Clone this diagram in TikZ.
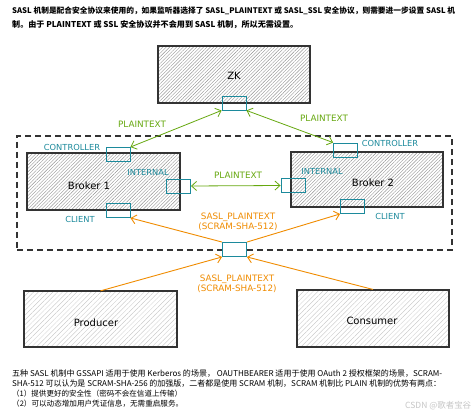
\documentclass[tikz,border=0pt]{standalone}
\usepackage{fontspec}
\setmainfont{DejaVu Sans}
\newfontfamily\cjk{Noto Sans CJK SC}
\usetikzlibrary{patterns.meta,arrows.meta}
\definecolor{tealc}{HTML}{1C8A9C}
\definecolor{grn}{HTML}{66A80F}
\definecolor{org}{HTML}{F08C00}
\definecolor{ink}{HTML}{333333}
\tikzset{
  hbox/.style={draw=ink,line width=1.1pt,inner sep=0,
    pattern={Lines[angle=45,distance=2.4pt,line width=0.4pt]},pattern color=gray!85},
  lbox/.style={draw=ink,line width=1.1pt,inner sep=0,
    pattern={Lines[angle=45,distance=3.4pt,line width=0.3pt]},pattern color=gray!50},
  port/.style={draw=tealc,line width=0.9pt,minimum width=24pt,minimum height=14pt,inner sep=0},
  plbl/.style={text=tealc,font=\fontsize{8.3}{9}\selectfont,inner sep=0},
  glbl/.style={text=grn,font=\fontsize{8.8}{9}\selectfont,inner sep=0},
  olbl/.style={text=org,font=\fontsize{8.8}{10}\selectfont,inner sep=0,align=center},
  btxt/.style={font=\fontsize{10}{11}\selectfont,inner sep=0},
  garr/.style={draw=grn,line width=0.8pt,>={Straight Barb[length=5pt,width=9pt]}},
  oarr/.style={draw=org,line width=0.9pt,>={Straight Barb[length=5pt,width=9pt]}},
  para/.style={anchor=west,inner sep=0},
}
\begin{document}
\begin{tikzpicture}[x=1pt,y=-1pt]
\useasboundingbox[fill=white] (0,0) rectangle (474,417);
% header
\node[para] (h1) at (12,11) {\resizebox{443pt}{!}{\cjk\bfseries SASL 机制是配合安全协议来使用的，如果监听器选择了 SASL\_PLAINTEXT 或 SASL\_SSL 安全协议，则需要进一步设置 SASL 机}};
\node[para] (h2) at (12,24.5) {\resizebox{286pt}{!}{\cjk\bfseries 制。由于 PLAINTEXT 或 SSL 安全协议并不会用到 SASL 机制，所以无需设置。}};
% boxes
\node[hbox,minimum width=152pt,minimum height=57pt] (zk) at (234,74.5) {};
\node[hbox,minimum width=153pt,minimum height=57pt] (b1) at (103.5,181.5) {};
\node[hbox,minimum width=152pt,minimum height=55pt] (b2) at (367,179.5) {};
\node[lbox,minimum width=153pt,minimum height=56pt] (prod) at (100.5,319) {};
\node[lbox,minimum width=152pt,minimum height=57pt] (cons) at (373,318.5) {};
\node[btxt] (zkt) at (234,76) {ZK};
\node[btxt] (b1t) at (89,186) {Broker 1};
\node[btxt] (b2t) at (373,183) {Broker 2};
\node[btxt] (prodt) at (96,323) {Producer};
\node[btxt] (const) at (372,321) {Consumer};
% dashed cluster
\node[draw=ink,line width=1.1pt,dash pattern=on 6pt off 4pt,minimum width=435pt,minimum height=114pt,inner sep=0] (cl) at (234.5,193) {};
% ports
\node[port] (zkp) at (234,103) {};
\node[port] (b1c) at (118,154.5) {};
\node[port] (b1i) at (178.5,186) {};
\node[port] (b1cl) at (118,210.5) {};
\node[port] (b2c) at (345.5,150) {};
\node[port] (b2i) at (293,185.5) {};
\node[port] (b2cl) at (352.5,206.5) {};
\node[port,fill=white] (mid) at (234.5,249.5) {};
% port labels
\node[plbl] (l1) at (72,147) {CONTROLLER};
\node[plbl] (l2) at (148,172) {INTERNAL};
\node[plbl] (l3) at (80,219) {CLIENT};
\node[plbl] (l4) at (390,143) {CONTROLLER};
\node[plbl] (l5) at (322,171) {INTERNAL};
\node[plbl] (l6) at (390,216) {CLIENT};
% green arrows
\draw[garr,<->] (zkp.south west) -- (b1c.north east);
\draw[garr,<->] (zkp.south east) -- (b2c.north west);
\draw[garr,<->] (b1i.east) -- (b2i.west);
\node[glbl] (g1) at (142,124) {PLAINTEXT};
\node[glbl] (g2) at (324,118) {PLAINTEXT};
\node[glbl] (g3) at (238,175.5) {PLAINTEXT};
% orange arrows
\draw[oarr,->] (mid.north west) -- (b1cl.south east);
\draw[oarr,->] (mid.north east) -- (b2cl.south west);
\draw[oarr,->] (prod.north) -- (mid.south west);
\draw[oarr,->] (cons.north) -- (mid.south east);
\node[olbl] (o1) at (238,222) {SASL\_PLAINTEXT\\(SCRAM-SHA-512)};
\node[olbl] (o2) at (237,283.5) {SASL\_PLAINTEXT\\(SCRAM-SHA-512)};
% footer
\node[para] (f1) at (12,373.5) {\resizebox{430pt}{!}{\cjk 五种 SASL 机制中 GSSAPI 适用于使用 Kerberos 的场景， OAUTHBEARER 适用于使用 OAuth 2 授权框架的场景，SCRAM-}};
\node[para] (f2) at (12,384) {\resizebox{429pt}{!}{\cjk SHA-512 可以认为是 SCRAM-SHA-256 的加强版，二者都是使用 SCRAM 机制，SCRAM 机制比 PLAIN 机制的优势有两点：}};
\node[para] (f3) at (12,394) {\resizebox{170pt}{!}{\cjk （1）提供更好的安全性（密码不会在信道上传输）}};
\node[para] (f4) at (12,404) {\resizebox{171pt}{!}{\cjk （2）可以动态增加用户凭证信息，无需重启服务。}};
\node[para,text=gray!45] (wm) at (405,406) {\resizebox{66pt}{!}{\cjk CSDN @歌者宝谷}};
\end{tikzpicture}
\end{document}
